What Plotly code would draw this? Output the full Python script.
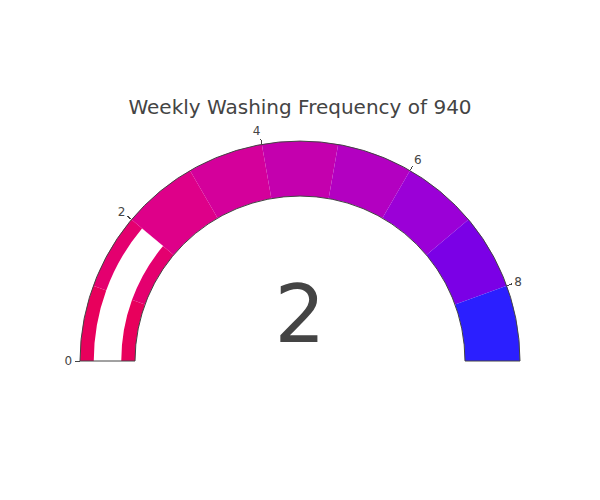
import plotly.graph_objects as go

# gauge data
title_text = "Weekly Washing Frequency of 940"
value = 2
axis_range = [0, 9]
step_bounds = [0, 1, 2, 3, 4, 5, 6, 7, 8, 9]
step_colors = ["#e8005c", "#e4006f", "#de0089", "#d4009b", "#c400ae",
               "#b300c1", "#9b00d7", "#7b00e6", "#2b1fff"]

steps = [dict(range=[step_bounds[i], step_bounds[i + 1]], color=step_colors[i])
         for i in range(len(step_colors))]

fig = go.Figure(go.Indicator(
    mode="gauge+number",
    value=value,
    title=dict(text=title_text),
    gauge=dict(
        axis=dict(range=axis_range, tickcolor="#444",
                  tickfont=dict(family="Verdana, DejaVu Sans", color="#444444", size=12)),
        bar=dict(color="white", thickness=0.5),
        steps=steps,
    ),
))
fig.update_layout(
    width=600, height=500,
    template="none",
    font=dict(family="Verdana, DejaVu Sans", color="#444"),
    margin=dict(t=83, b=97, l=72, r=88),
)

fig.write_html("out.html")
